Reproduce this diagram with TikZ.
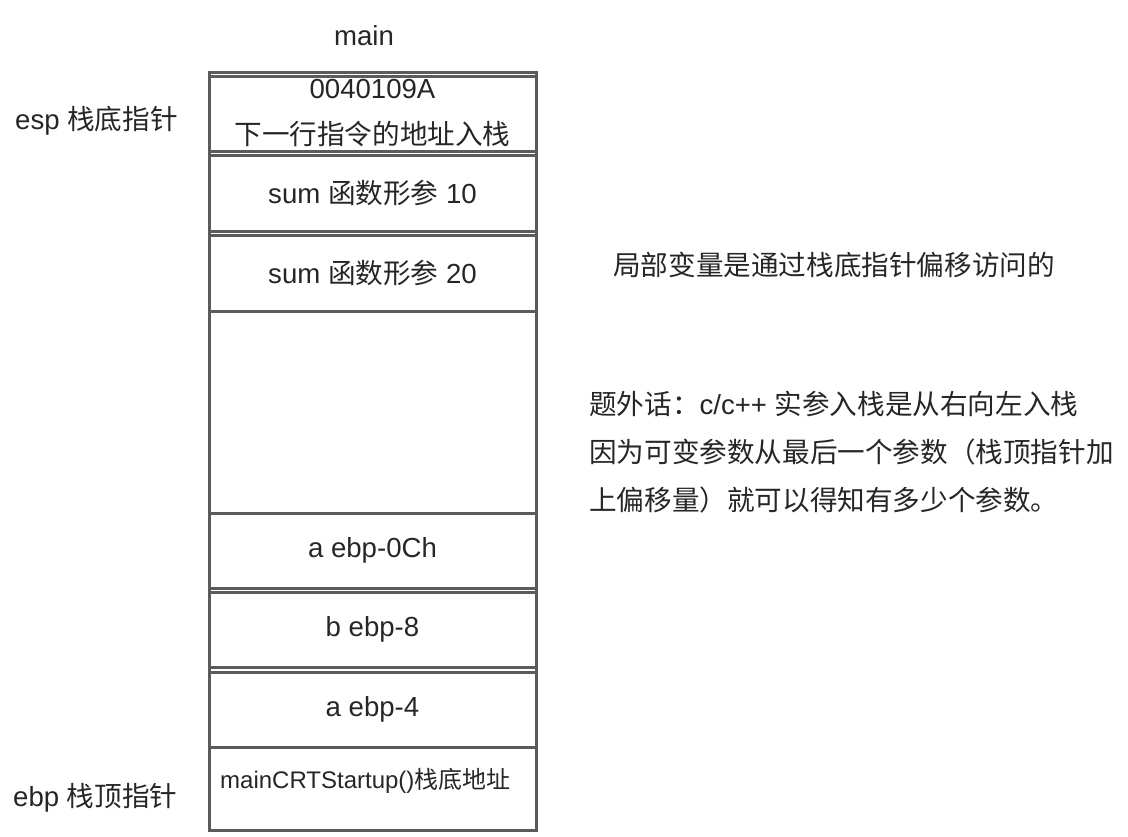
\documentclass[tikz,border=0pt]{standalone}
\usepackage{fontspec}
\setmainfont{Liberation Sans}
\newfontfamily\cjk{Noto Sans CJK SC}
\usepackage{xcolor}
\definecolor{Frame}{HTML}{5B5B5B}
\definecolor{Ink}{HTML}{262626}
\usepackage{tikz}
\usetikzlibrary{positioning}

\begin{document}
\begin{tikzpicture}[
  x=1pt,y=-1pt,
  font=\fontsize{27.6}{32}\selectfont,
  slot/.style={draw=Frame,line width=3pt,minimum width=327pt,anchor=north west,
    inner sep=0pt,outer sep=0pt,text=Ink,align=center},
  tag/.style={anchor=west,inner sep=0pt,text=Ink}
]
\useasboundingbox (0,0) rectangle (1128,836);

% stack frame of main
\node[slot,minimum height=758pt] (stack) at (209,72) {};
\node[slot,minimum height=75pt,font=\fontsize{27.6}{46}\selectfont] (ret) at (209,76)
  {0040109A\\{\cjk 下一行指令的地址入栈}};
\node[slot,minimum height=76pt] (argb) at (209,155) {sum {\cjk 函数形参} 10};
\node[slot,minimum height=76pt] (arga) at (209,235) {sum {\cjk 函数形参} 20};
\node[slot,minimum height=75pt] (locc) at (209,513) {a ebp-0Ch};
\node[slot,minimum height=75pt] (locb) at (209,592) {b ebp-8};
\node[slot,minimum height=75pt] (loca) at (209,672) {a ebp-4};
\node[slot,minimum height=83pt] (base) at (209,747) {};
\node[tag,font=\fontsize{24}{28}\selectfont] (basetxt) at (220,781)
  {mainCRTStartup(){\cjk 栈底地址}};

% labels
\node[text=Ink] (title) at (364,36) {main};
\node[tag] (esp) at (15,121) {esp {\cjk 栈底指针}};
\node[tag] (ebp) at (13,798) {ebp {\cjk 栈顶指针}};
\node[tag] (note) at (613,265) {\cjk 局部变量是通过栈底指针偏移访问的};
\node[tag,align=left,font=\fontsize{27.6}{48}\selectfont] (aside) at (589,452)
  {{\cjk 题外话：}c/c++ {\cjk 实参入栈是从右向左入栈}\\
   {\cjk 因为可变参数从最后一个参数（栈顶指针加}\\
   {\cjk 上偏移量）就可以得知有多少个参数。}};
\end{tikzpicture}
\end{document}
